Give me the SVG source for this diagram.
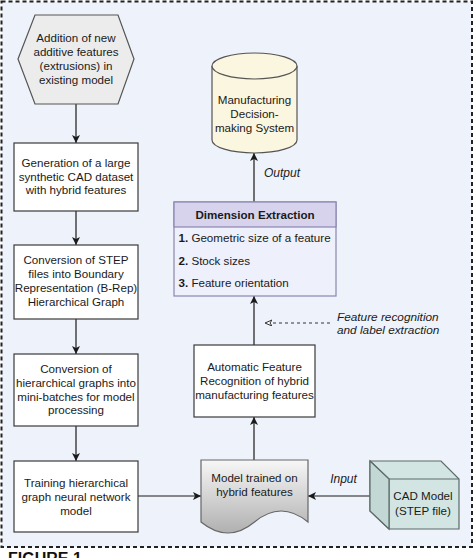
<svg xmlns="http://www.w3.org/2000/svg" width="474" height="558" viewBox="0 0 474 558">
<style>
text{font-family:"Liberation Sans",Arial,sans-serif;font-size:11.6px;fill:#1a1a1a}
.c{text-anchor:middle}
.i{font-style:italic;font-size:12px}
.b{font-weight:bold}
.box{fill:#ffffff;stroke:#3a3a3a;stroke-width:1.2}
.ln{fill:none;stroke:#1a1a1a;stroke-width:1.2}
</style>
<defs>
<marker id="ah" markerUnits="userSpaceOnUse" markerWidth="10" markerHeight="10" refX="8" refY="4" orient="auto">
<path d="M0,0 L8,4 L0,8 L2,4 Z" fill="#1a1a1a"/>
</marker>
<marker id="ah2" markerUnits="userSpaceOnUse" markerWidth="10" markerHeight="10" refX="7" refY="3" orient="auto">
<path d="M0,0 L7,3 L0,6 L2,3 Z" fill="#fff" stroke="#333" stroke-width="1"/>
</marker>
<linearGradient id="dg" x1="0" y1="0" x2="0" y2="1">
<stop offset="0" stop-color="#f7f7f7"/>
<stop offset="1" stop-color="#b0b0b0"/>
</linearGradient>
</defs>
<rect x="1.5" y="1.5" width="470.5" height="545.5" fill="#eef2fb" stroke="#222" stroke-width="2" stroke-dasharray="4,3"/>

<g id="connectors">
<line class="ln" x1="76" y1="104" x2="76" y2="143" marker-end="url(#ah)"/>
<line class="ln" x1="76" y1="211" x2="76" y2="245" marker-end="url(#ah)"/>
<line class="ln" x1="76" y1="319" x2="76" y2="354" marker-end="url(#ah)"/>
<line class="ln" x1="76" y1="426" x2="76" y2="461" marker-end="url(#ah)"/>
<line class="ln" x1="138" y1="496" x2="201" y2="496" marker-end="url(#ah)"/>
<line class="ln" x1="370" y1="496" x2="308" y2="496" marker-end="url(#ah)"/>
<line class="ln" x1="254" y1="460" x2="254" y2="417" marker-end="url(#ah)"/>
<line class="ln" x1="254" y1="345" x2="254" y2="296" marker-end="url(#ah)"/>
<line class="ln" x1="254" y1="202" x2="254" y2="153" marker-end="url(#ah)"/>
<line x1="330" y1="323" x2="265" y2="323" stroke="#333" stroke-width="1" stroke-dasharray="3,3" marker-end="url(#ah2)"/>
<text class="i" x="264" y="177">Output</text>
<text class="i c" x="343.5" y="483">Input</text>
<text class="i" x="337" y="320.5" style="font-size:11.8px">Feature recognition</text>
<text class="i" x="337" y="333.5" style="font-size:11.8px">and label extraction</text>
</g>

<g id="hex">
<polygon points="18,59 35,15 118,15 134,59 118,104 35,104" fill="#ececec" stroke="#555" stroke-width="1.2"/>
<text class="c" x="76" y="42">Addition of new</text>
<text class="c" x="76" y="56">additive features</text>
<text class="c" x="76" y="70">(extrusions) in</text>
<text class="c" x="76" y="84">existing model</text>
</g>

<g id="gen">
<rect class="box" x="14" y="143" width="124" height="68"/>
<text class="c" x="76" y="167">Generation of a large</text>
<text class="c" x="76" y="180.5">synthetic CAD dataset</text>
<text class="c" x="76" y="194">with hybrid features</text>
</g>

<g id="conv1">
<rect class="box" x="14" y="245" width="124" height="74"/>
<text class="c" x="76" y="263.5">Conversion of STEP</text>
<text class="c" x="76" y="278">files into Boundary</text>
<text class="c" x="76" y="292">Representation (B-Rep)</text>
<text class="c" x="76" y="306">Hierarchical Graph</text>
</g>

<g id="conv2">
<rect class="box" x="14" y="354" width="124" height="72"/>
<text class="c" x="76" y="372.5">Conversion of</text>
<text class="c" x="76" y="386.5">hierarchical graphs into</text>
<text class="c" x="76" y="400.5">mini-batches for model</text>
<text class="c" x="76" y="414">processing</text>
</g>

<g id="train">
<rect class="box" x="14" y="461" width="124" height="71"/>
<text class="c" x="76" y="486.5">Training hierarchical</text>
<text class="c" x="76" y="500.5">graph neural network</text>
<text class="c" x="76" y="514.5">model</text>
</g>

<g id="doc">
<path d="M201,460 L308,460 L308,522 Q281,500 254.5,522 Q228,544 201,522 Z" fill="url(#dg)" stroke="#666" stroke-width="1.2"/>
<text class="c" x="254.5" y="481.5">Model trained on</text>
<text class="c" x="254.5" y="495.5">hybrid features</text>
</g>

<g id="cad">
<path d="M370,461 L441,461 L459,479 L459,529 L389,529 L370,511 Z" fill="#d2e5e2" stroke="#5a6a68" stroke-width="1.2"/>
<path d="M370,461 L389,479 L459,479 M389,479 L389,529" fill="none" stroke="#5a6a68" stroke-width="1.2"/>
<path d="M370,461 L389,479 L389,529 L370,511 Z" fill="#c3d8d4" stroke="#5a6a68" stroke-width="1.2"/>
<text class="c" x="423" y="500">CAD Model</text>
<text class="c" x="423" y="515">(STEP file)</text>
</g>

<g id="auto">
<rect class="box" x="194" y="345" width="121" height="72"/>
<text class="c" x="254.5" y="370.5">Automatic Feature</text>
<text class="c" x="254.5" y="384.5">Recognition of hybrid</text>
<text class="c" x="254.5" y="398.5">manufacturing features</text>
</g>

<g id="dim">
<rect x="174" y="202" width="162" height="94" fill="#eef0fb" stroke="#8b86b0" stroke-width="1.2"/>
<rect x="174" y="202" width="162" height="25" fill="#d8d3ec" stroke="#8b86b0" stroke-width="1.2"/>
<text class="c b" x="255" y="218.5">Dimension Extraction</text>
<text x="178.5" y="242"><tspan class="b">1.</tspan> Geometric size of a feature</text>
<text x="178.5" y="264.5"><tspan class="b">2.</tspan> Stock sizes</text>
<text x="178.5" y="287"><tspan class="b">3.</tspan> Feature orientation</text>
</g>

<g id="mdms">
<path d="M212,66 L212,140 A42.5,13 0 0 0 297,140 L297,66" fill="#fbf6e0" stroke="#555" stroke-width="1.2"/>
<ellipse cx="254.5" cy="66" rx="42.5" ry="13" fill="#fbf6e0" stroke="#555" stroke-width="1.2"/>
<text class="c" x="254.5" y="103.5">Manufacturing</text>
<text class="c" x="254.5" y="117.5">Decision-</text>
<text class="c" x="254.5" y="131.5">making System</text>
</g>

<text x="8" y="564" style="font-size:16px;font-weight:bold;fill:#111">FIGURE 1</text>
</svg>
